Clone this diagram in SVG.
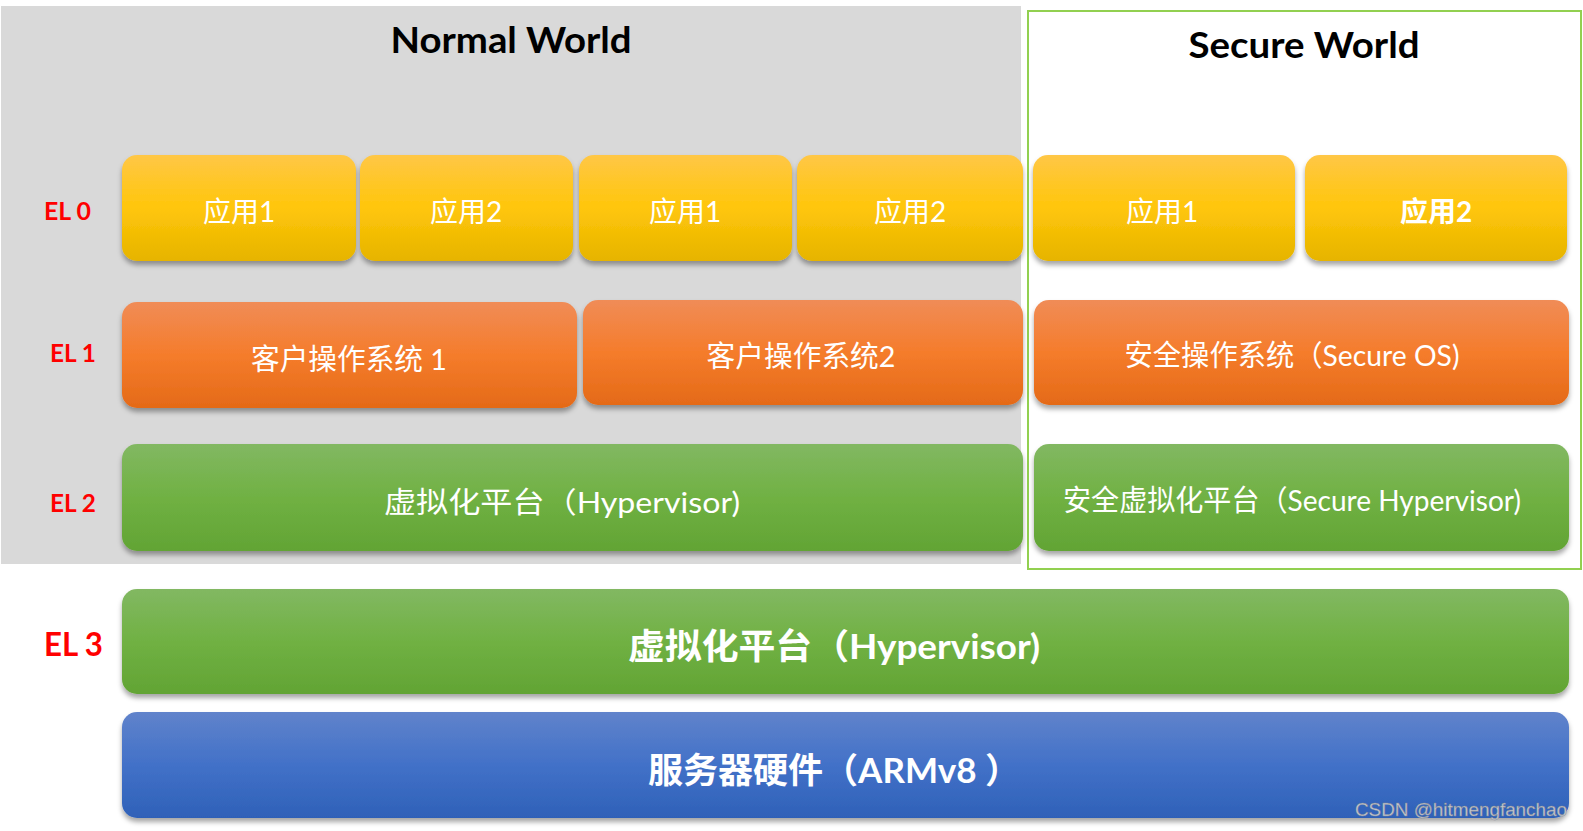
<svg xmlns="http://www.w3.org/2000/svg" width="1583" height="831" viewBox="0 0 1583 831">
<defs>
<linearGradient id="gY" x1="0" y1="0" x2="0" y2="1"><stop offset="0" stop-color="#FFC746"/><stop offset="0.5" stop-color="#FFC60A"/><stop offset="1" stop-color="#E6B400"/></linearGradient>
<linearGradient id="gO" x1="0" y1="0" x2="0" y2="1"><stop offset="0" stop-color="#F08C57"/><stop offset="0.5" stop-color="#F57C2B"/><stop offset="1" stop-color="#E46A18"/></linearGradient>
<linearGradient id="gG" x1="0" y1="0" x2="0" y2="1"><stop offset="0" stop-color="#82B862"/><stop offset="0.5" stop-color="#70B143"/><stop offset="1" stop-color="#62A434"/></linearGradient>
<linearGradient id="gB" x1="0" y1="0" x2="0" y2="1"><stop offset="0" stop-color="#6083CB"/><stop offset="0.5" stop-color="#4271C8"/><stop offset="1" stop-color="#2F61B8"/></linearGradient>
<filter id="sh" x="-5%" y="-20%" width="110%" height="150%"><feDropShadow dx="0" dy="4" stdDeviation="2.5" flood-color="#000" flood-opacity="0.35"/></filter>
</defs>
<style>
.box{filter:url(#sh)}
.y{fill:url(#gY)}.o{fill:url(#gO)}.g{fill:url(#gG)}.b{fill:url(#gB)}
.t{font-family:Lato,"Noto Sans CJK SC",sans-serif;fill:#fff;text-anchor:middle}
.r{font-size:28px;font-weight:400}
.rb{font-size:28px;font-weight:700}
.m{font-size:29px;font-weight:400}
.big{font-size:35px;font-weight:700}
.el{font-family:Lato,"Liberation Sans",sans-serif;font-weight:700;fill:#FF0000}
.title{font-family:Lato,"Liberation Sans",sans-serif;font-weight:700;font-size:37px;fill:#000;text-anchor:middle}
</style>
<g id="backgrounds">
<rect x="1" y="6" width="1020" height="558" fill="#D9D9D9"/>
<rect x="1028" y="11" width="553" height="558" fill="#fff" stroke="#92D050" stroke-width="2"/>
</g>
<g id="titles">
<text class="title" x="511" y="53" textLength="241" lengthAdjust="spacingAndGlyphs">Normal World</text>
<text class="title" x="1304" y="58" textLength="231" lengthAdjust="spacingAndGlyphs">Secure World</text>
</g>
<g id="levels">
<text class="el" x="44" y="220" font-size="25" textLength="47" lengthAdjust="spacingAndGlyphs">EL 0</text>
<text class="el" x="50" y="362" font-size="25" textLength="46" lengthAdjust="spacingAndGlyphs">EL 1</text>
<text class="el" x="50" y="512" font-size="25" textLength="46" lengthAdjust="spacingAndGlyphs">EL 2</text>
<text class="el" x="44" y="656" font-size="32" textLength="59" lengthAdjust="spacingAndGlyphs">EL 3</text>
</g>
<g id="n-app1"><rect class="box y" x="122" y="155" width="234" height="106" rx="15"/><text class="t r" x="239" y="222">应用1</text></g>
<g id="n-app2"><rect class="box y" x="360" y="155" width="213" height="106" rx="15"/><text class="t r" x="466" y="222">应用2</text></g>
<g id="n-app3"><rect class="box y" x="579" y="155" width="213" height="106" rx="15"/><text class="t r" x="685" y="222">应用1</text></g>
<g id="n-app4"><rect class="box y" x="797" y="155" width="226" height="106" rx="15"/><text class="t r" x="910" y="222">应用2</text></g>
<g id="s-app1"><rect class="box y" x="1033" y="155" width="262" height="106" rx="15"/><text class="t r" x="1162" y="222">应用1</text></g>
<g id="s-app2"><rect class="box y" x="1305" y="155" width="262" height="106" rx="15"/><text class="t rb" x="1436" y="222">应用2</text></g>
<g id="guest-os1"><rect class="box o" x="122" y="302" width="455" height="106" rx="15"/><text class="t m" x="349" y="370" textLength="196" lengthAdjust="spacingAndGlyphs">客户操作系统 1</text></g>
<g id="guest-os2"><rect class="box o" x="583" y="300" width="440" height="105" rx="15"/><text class="t m" x="801" y="367" textLength="189" lengthAdjust="spacingAndGlyphs">客户操作系统2</text></g>
<g id="secure-os"><rect class="box o" x="1034" y="300" width="535" height="105" rx="15"/><text class="t m" x="1292" y="366" textLength="335" lengthAdjust="spacingAndGlyphs">安全操作系统（Secure OS)</text></g>
<g id="hypervisor-el2"><rect class="box g" x="122" y="444" width="901" height="107" rx="15"/><text class="t m" x="562" y="513" textLength="356" lengthAdjust="spacingAndGlyphs">虚拟化平台（Hypervisor)</text></g>
<g id="secure-hypervisor"><rect class="box g" x="1034" y="444" width="535" height="107" rx="15"/><text class="t m" x="1292" y="511" textLength="458" lengthAdjust="spacingAndGlyphs">安全虚拟化平台（Secure Hypervisor)</text></g>
<g id="hypervisor-el3"><rect class="box g" x="122" y="589" width="1447" height="105" rx="15"/><text class="t big" x="834" y="659" textLength="412" lengthAdjust="spacingAndGlyphs">虚拟化平台（Hypervisor)</text></g>
<g id="hardware"><rect class="box b" x="122" y="712" width="1447" height="106" rx="15"/><text class="t big" x="834" y="783" textLength="372" lengthAdjust="spacingAndGlyphs">服务器硬件（ARMv8 ）</text></g>
<g id="connectors"/>
<g id="watermark"><text x="1355" y="816" font-family="'Liberation Sans',Arial,sans-serif" font-size="18.5" fill="#C4C8D0" stroke="#7F8590" stroke-width="0.4" textLength="212" lengthAdjust="spacingAndGlyphs">CSDN @hitmengfanchao</text></g>
</svg>
